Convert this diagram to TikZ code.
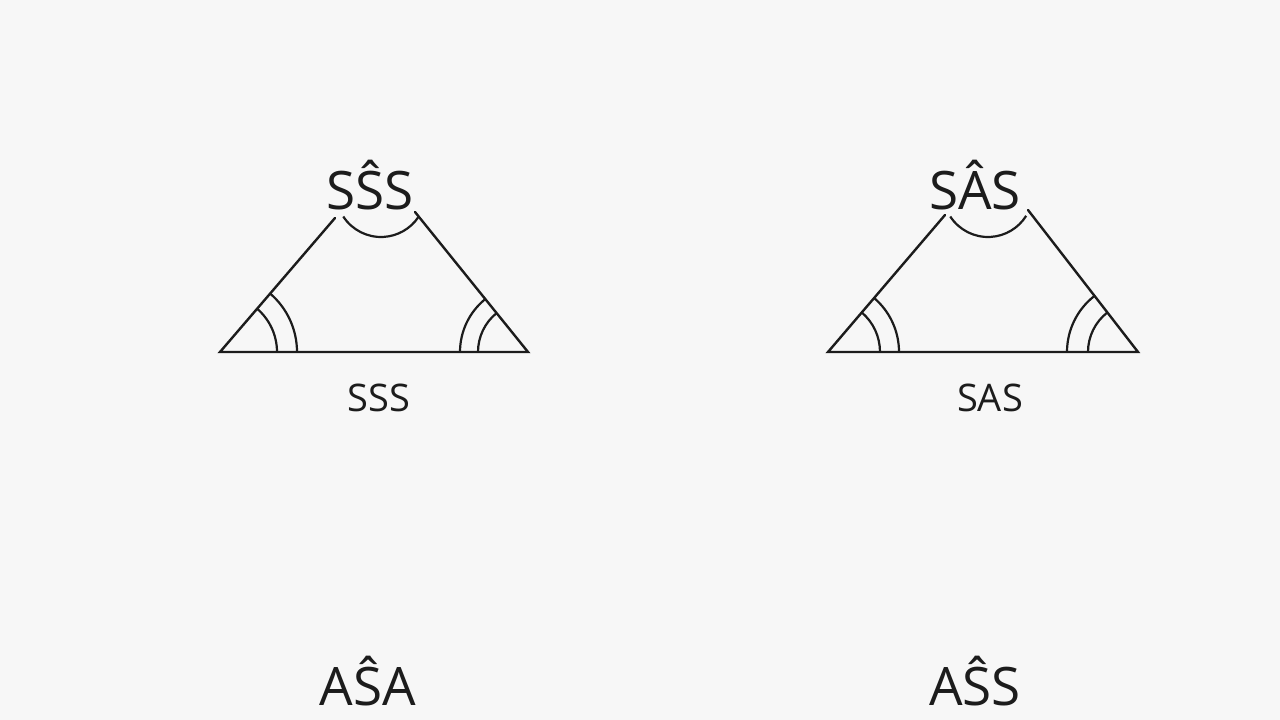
\documentclass[tikz,border=0pt]{standalone}
\usepackage{fontspec}
\setmainfont{Open Sans}
\usetikzlibrary{positioning}
\definecolor{paper}{HTML}{F7F7F7}
\definecolor{ink}{HTML}{1C1C1C}
\tikzstyle{side}=[draw,ink,line width=2.4pt,line cap=round]
\tikzstyle{angmark}=[draw,ink,line width=2.2pt]
\tikzstyle{title}=[anchor=base,inner sep=0pt,text=ink,font=\fontsize{53}{60}\selectfont]
\tikzstyle{caption}=[anchor=base,inner sep=0pt,text=ink,font=\fontsize{38}{44}\selectfont]

\begin{document}
\begin{tikzpicture}[x=1pt,y=1pt]
    \fill[paper] (0,0) rectangle (1280,720);
    \useasboundingbox (0,0) rectangle (1280,720);

    % vertices and the ends of the sides below the titles
    \foreach \pos/\name in {{(220,368)/a1}, {(528,368)/b1}, {(335,502)/l1}, {(415,508)/r1},
                            {(828,368)/a2}, {(1138,368)/b2}, {(945,505)/l2}, {(1028,510)/r2},
                            {(381,528)/c1}, {(988,528)/c2}}
        \node[coordinate] (\name) at \pos {};

    \foreach \i in {1,2}
        \path[side] (l\i) -- (a\i) -- (b\i) -- (r\i);

    % angle marks
    \foreach \v/\from/\to/\r in {a1/0/49.4/57, a1/0/49.4/77, b1/128.9/180/50, b1/128.9/180/68,
                                 a2/0/49.5/52, a2/0/49.5/71, b2/127.8/180/50, b2/127.8/180/71,
                                 c1/213/326/45, c2/213/328/45}
        \path[angmark] (\v) ++(\from:\r) arc[start angle=\from,end angle=\to,radius=\r];

    % titles and captions
    \node[title] (t1) at (370,510) {S\^{S}S};
    \node[title] (t2) at (975,510) {S\^{A}S};
    \node[caption] (s1) at (379,308) {SSS};
    \node[caption] (s2) at (990,308) {SAS};
    \node[title] (t3) at (368,14) {A\^{S}A};
    \node[title] (t4) at (975,14) {A\^{S}S};
\end{tikzpicture}
\end{document}
